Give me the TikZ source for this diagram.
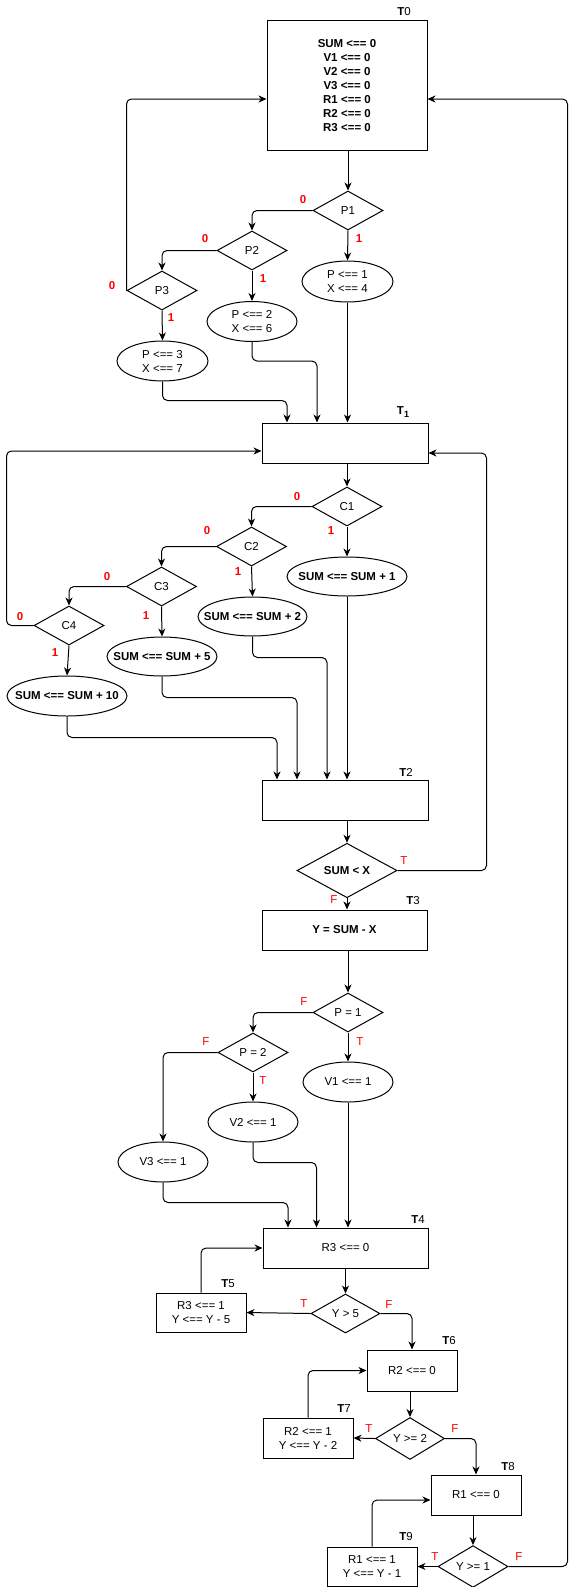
\documentclass[tikz,border=0pt]{standalone}
\usepackage{fontspec}
\setmainfont{Liberation Sans}
\usepackage{tikz}
\usetikzlibrary{arrows.meta,shapes.geometric}

\begin{document}
\begin{tikzpicture}[x=1pt,y=-1pt,line width=1pt,
  >={Stealth[length=8pt,width=7pt,inset=2.5pt]},
  rounded corners=5pt,
  every node/.style={font=\fontsize{11.5}{14}\selectfont},
  box/.style={draw,rectangle,inner sep=0pt,align=center,sharp corners},
  test/.style={draw,diamond,inner sep=0pt,minimum width=70pt,minimum height=39pt,sharp corners},
  oval/.style={draw,ellipse,inner xsep=-30pt,inner ysep=0pt,align=center,minimum width=90pt,minimum height=40pt,sharp corners},
  heavy/.style={font=\fontsize{11.5}{14}\selectfont\bfseries},
  lbl/.style={text=red},
  tag/.style={}]
\useasboundingbox (0,0) rectangle (576,1587);

% T0 = init
\node[box,heavy,minimum width=160pt,minimum height=129pt] (T0) at (347,85.5)
  {SUM <== 0\\V1 <==  0\\V2 <== 0\\V3 <== 0\\R1 <== 0\\R2 <== 0\\R3 <== 0};
\node[tag] (t0) at (404,12) {\textbf{T}0};

% P1, P2, P3
\node[test] (P1) at (348,210.5) {P1};
\node[test] (P2) at (252,250.5) {P2};
\node[test] (P3) at (162,290.5) {P3};
\node[oval,minimum width=91pt,minimum height=41pt] (Pe1) at (347.5,281.5) {P <== 1\\X <== 4};
\node[oval] (Pe2) at (252,321.5) {P <== 2\\X <== 6};
\node[oval,minimum width=91pt] (Pe3) at (162.5,361) {P <== 3\\X <== 7};

% T1 = empty box
\node[box,minimum width=166pt,minimum height=40pt] (T1) at (345,443) {};
\node[tag] (t1) at (403,412) {\textbf{T}\raisebox{-2.5pt}{\small\textbf{1}}};

% C1 .. C4
\node[test] (C1) at (347,506.5) {C1};
\node[test] (C2) at (251.5,546.5) {C2};
\node[test] (C3) at (161.5,586.5) {C3};
\node[test] (C4) at (69,625.5) {C4};
\node[oval,heavy,minimum width=120pt,minimum height=39pt] (Ce1) at (347,576.5) {SUM <== SUM + 1};
\node[oval,heavy,minimum width=109pt,minimum height=39pt] (Ce2) at (252.5,616.5) {SUM <== SUM + 2};
\node[oval,heavy,minimum width=110pt,minimum height=39pt] (Ce3) at (162,656.5) {SUM <== SUM + 5};
\node[oval,heavy,minimum width=120pt] (Ce4) at (67,696) {SUM <== SUM + 10};

% T2 = empty box
\node[box,minimum width=166pt,minimum height=40pt] (T2) at (345,800) {};
\node[tag] (t2) at (406,772) {\textbf{T}2};

% SUM < X
\node[test,heavy,minimum width=100pt] (SX) at (347,870.5) {SUM < X};

% T3
\node[box,heavy,minimum width=165pt,minimum height=40pt] (T3) at (344.5,930) {Y = SUM - X};
\node[tag] (t3) at (413,901) {\textbf{T}3};

% P = 1, P = 2
\node[test] (Q1) at (348,1012.5) {P = 1};
\node[test] (Q2) at (253,1052.5) {P = 2};
\node[oval] (V1) at (348,1082) {V1 <== 1};
\node[oval] (V2) at (253,1122) {V2 <== 1};
\node[oval] (V3) at (163,1162) {V3 <== 1};

% T4 .. T9
\node[box,minimum width=165pt,minimum height=40pt] (T4) at (345.5,1248) {R3 <== 0};
\node[tag] (t4) at (418,1220) {\textbf{T}4};
\node[test,minimum width=69pt] (G5) at (345.5,1313.5) {Y > 5};
\node[box,minimum width=90pt,minimum height=39pt] (T5) at (201,1312.5) {R3 <== 1\\Y <== Y - 5};
\node[tag] (t5) at (228,1284) {\textbf{T}5};

\node[box,minimum width=90pt,minimum height=41pt] (T6) at (412,1370.5) {R2 <== 0};
\node[tag] (t6) at (449,1341) {\textbf{T}6};
\node[test,minimum width=69pt] (G2) at (410,1438.5) {Y >= 2};
\node[box,minimum width=90pt,minimum height=40pt] (T7) at (308,1438) {R2 <== 1\\Y <== Y - 2};
\node[tag] (t7) at (344,1409) {\textbf{T}7};

\node[box,minimum width=90pt,minimum height=40pt] (T8) at (476,1495) {R1 <== 0};
\node[tag] (t8) at (508,1467) {\textbf{T}8};
\node[test] (G1) at (473,1566.5) {Y >= 1};
\node[box,minimum width=90pt,minimum height=39pt] (T9) at (372,1566.5) {R1 <== 1\\Y <== Y - 1};
\node[tag] (t9) at (406,1537) {\textbf{T}9};

% connectors, part 1
\draw[->] (P1.north |- T0.south) -- (P1.north);
\draw[->] (P1.west) -| (P2.north);
\draw[->] (P2.west) -| (P3.north);
\draw[->] (P3.west) |- ([yshift=-13.5pt]T0.west);
\draw[->] (P1.south) -- (Pe1.north);
\draw[->] (P2.south) -- (Pe2.north);
\draw[->] (P3.south) -- (Pe3.north);
\draw[->] (Pe3.south) -- ++(0,19) -| ([xshift=-58pt]T1.north);
\draw[->] (Pe2.south) -- ++(0,19) -| ([xshift=-28pt]T1.north);
\draw[->] (Pe1.south) -- (Pe1.south |- T1.north);

% connectors, part 2
\draw[->] (C1.north |- T1.south) -- (C1.north);
\draw[->] (C1.west) -| (C2.north);
\draw[->] (C2.west) -| (C3.north);
\draw[->] (C3.west) -| (C4.north);
\draw[->] (C4.west) -- ++(-27,0) |- ([yshift=-8pt]T1.west);
\draw[->] (C1.south) -- (Ce1.north);
\draw[->] (C2.south) -- (Ce2.north);
\draw[->] (C3.south) -- (Ce3.north);
\draw[->] (C4.south) -- (Ce4.north);
\draw[->] (Ce4.south) -- ++(0,21) -| ([xshift=-68pt]T2.north);
\draw[->] (Ce3.south) -- ++(0,21) -| ([xshift=-48pt]T2.north);
\draw[->] (Ce2.south) -- ++(0,21) -| ([xshift=-18pt]T2.north);
\draw[->] (Ce1.south) -- (Ce1.south |- T2.north);

% connectors, part 3
\draw[->] (SX.north |- T2.south) -- (SX.north);
\draw[->] (SX.east) -- ++(89,0) |- ([yshift=-10pt]T1.east);
\draw[->] (SX.south) -- (SX.south |- T3.north);
\draw[->] (Q1.north |- T3.south) -- (Q1.north);
\draw[->] (Q1.west) -| (Q2.north);
\draw[->] (Q2.west) -| (V3.north);
\draw[->] (Q1.south) -- (V1.north);
\draw[->] (Q2.south) -- (V2.north);
\draw[->] (V3.south) -- ++(0,20) -| ([xshift=-57.5pt]T4.north);
\draw[->] (V2.south) -- ++(0,20) -| ([xshift=-29pt]T4.north);
\draw[->] (V1.south) -- (V1.south |- T4.north);

% connectors, part 4
\draw[->] (G5.north |- T4.south) -- (G5.north);
\draw[->] (G5.west) -- (T5.east);
\draw[->] (T5.north) |- (T4.west);
\draw[->] (G5.east) -| (T6.north);
\draw[->] (G2.north |- T6.south) -- (G2.north);
\draw[->] (G2.west) -- (T7.east);
\draw[->] (T7.north) |- (T6.west);
\draw[->] (G2.east) -| (T8.north);
\draw[->] (G1.north |- T8.south) -- (G1.north);
\draw[->] (G1.west) -- (T9.east);
\draw[->] (T9.north) |- ([yshift=-5pt]T8.west);
\draw[->] (G1.east) -- ++(59,0) |- ([yshift=-13.5pt]T0.east);

% branch labels
\node[lbl,heavy] (l1) at (303,200) {0};
\node[lbl,heavy] (l2) at (359,239) {1};
\node[lbl,heavy] (l3) at (205,239) {0};
\node[lbl,heavy] (l4) at (263,279) {1};
\node[lbl,heavy] (l5) at (112,286) {0};
\node[lbl,heavy] (l6) at (171,318) {1};
\node[lbl,heavy] (l7) at (297,497) {0};
\node[lbl,heavy] (l8) at (331,531) {1};
\node[lbl,heavy] (l9) at (207,531) {0};
\node[lbl,heavy] (l10) at (238,572) {1};
\node[lbl,heavy] (l11) at (107,577) {0};
\node[lbl,heavy] (l12) at (146,616) {1};
\node[lbl,heavy] (l13) at (20,617) {0};
\node[lbl,heavy] (l14) at (55,653) {1};
\node[lbl] (l15) at (404,861) {T};
\node[lbl] (l16) at (334,900) {F};
\node[lbl] (l17) at (304,1002) {F};
\node[lbl] (l18) at (360,1042) {T};
\node[lbl] (l19) at (206,1042) {F};
\node[lbl] (l20) at (263,1081) {T};
\node[lbl] (l21) at (304,1304) {T};
\node[lbl] (l22) at (389,1305) {F};
\node[lbl] (l23) at (369,1429) {T};
\node[lbl] (l24) at (455,1429) {F};
\node[lbl] (l25) at (435,1557) {T};
\node[lbl] (l26) at (519,1557) {F};

\end{tikzpicture}
\end{document}
